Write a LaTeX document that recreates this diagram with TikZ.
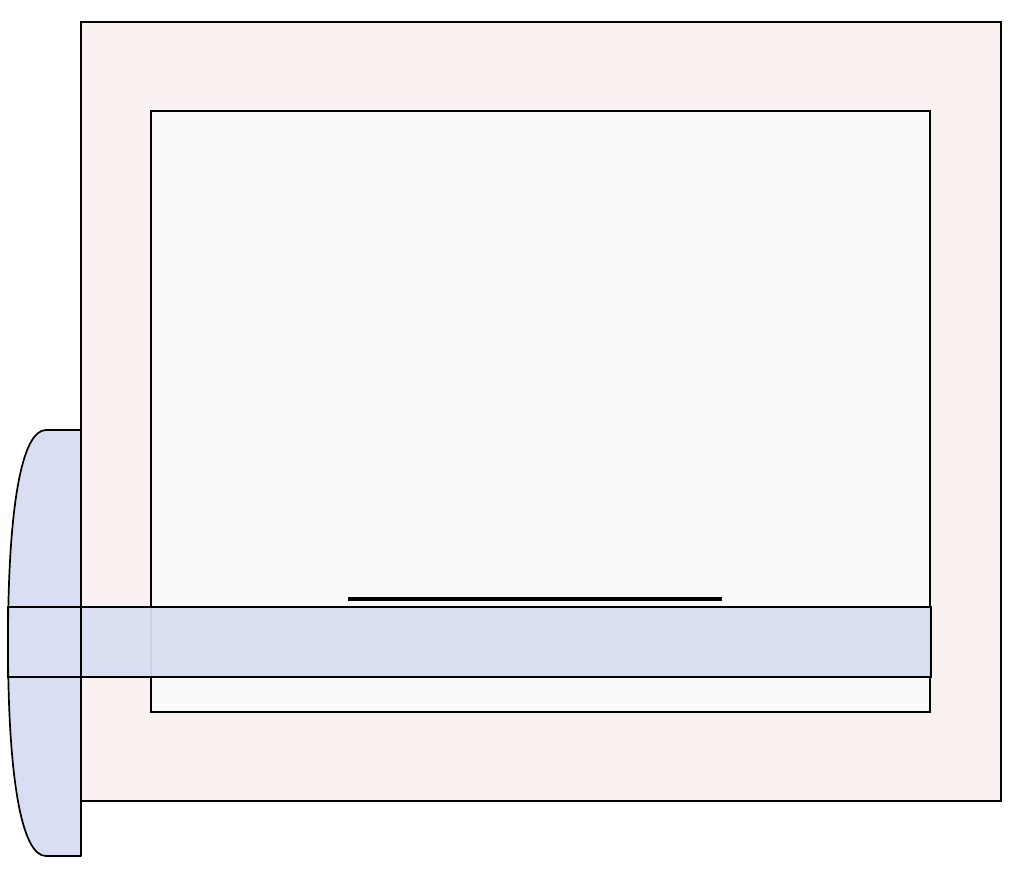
\documentclass[tikz,border=0pt]{standalone}
\definecolor{pinkbg}{HTML}{F9F1EF}
\definecolor{innerbg}{HTML}{FAFAFA}
\definecolor{lensblue}{HTML}{D9DEF2}
\begin{document}
\begin{tikzpicture}[x=1pt,y=-1pt,
  frame/.style={draw=black,line width=1.4pt},
  lens/.style={fill=lensblue,draw=black,line width=1.6pt}]
\useasboundingbox (0,0) rectangle (1024,884);
% outer frame
\path[frame,fill=pinkbg] (81,22) rectangle (1001,801);
% inner frame
\path[frame,fill=innerbg] (151,111) rectangle (930,712);
% lens (half) on left
\fill[lensblue] (81,430) -- (46,430) .. controls (22,430) and (8,505) .. (8,643)
   .. controls (8,781) and (22,856) .. (46,856) -- (81,856) -- cycle;
% bar
\fill[lensblue,fill opacity=0.94] (8,607) rectangle (931,677);
\draw[black,line width=1.7pt] (8,607) rectangle (931,677);
\draw[black,line width=1.7pt,line join=round] (81,430) -- (46,430) .. controls (22,430) and (8,505) .. (8,643)
   .. controls (8,781) and (22,856) .. (46,856) -- (81,856) -- cycle;
% thick black line
\draw[black,line width=3.5pt] (348,599) -- (722,599);
\end{tikzpicture}
\end{document}
